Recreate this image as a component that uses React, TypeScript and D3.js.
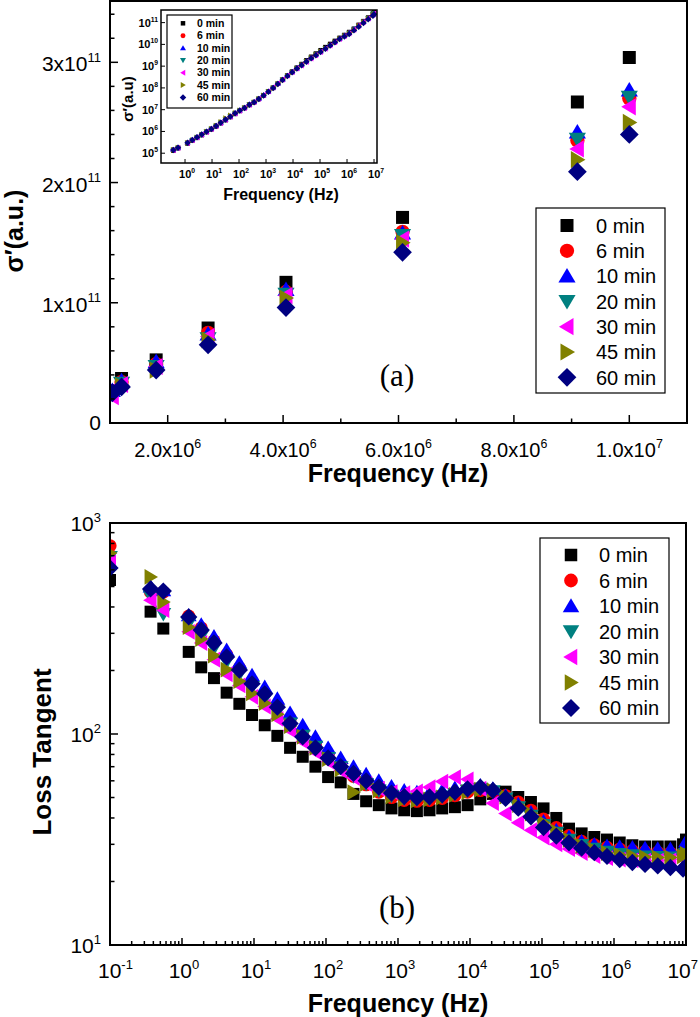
import React from "react";
import * as d3 from "d3";

const SANS = "'Liberation Sans', Arial, sans-serif";
const SERIF = "'Liberation Serif', 'Times New Roman', serif";

// sintering times, one series each
const seriesLabels = ["0 min", "6 min", "10 min", "20 min", "30 min", "45 min", "60 min"];
const seriesColors = ["#000000", "#ff0000", "#0000ff", "#008080", "#ff00ff", "#808000", "#000080"];
const seriesShapes = ["square", "circle", "up", "down", "left", "right", "diamond"];

// (a) ac conductivity above 1 MHz, linear axes
const freqHigh = [1.04e6, 1.2e6, 1.8e6, 2.7e6, 4.05e6, 6.07e6, 9.1e6, 1.0e7];
const sigmaHigh0 = [0.27e11, 0.37e11, 0.525e11, 0.79e11, 1.17e11, 1.71e11, 2.67e11, 3.04e11];
const sigmaHigh6 = [0.26e11, 0.34e11, 0.49e11, 0.75e11, 1.09e11, 1.59e11, 2.35e11, 2.7e11];
const sigmaHigh10 = [0.27e11, 0.35e11, 0.51e11, 0.74e11, 1.11e11, 1.58e11, 2.42e11, 2.77e11];
const sigmaHigh20 = [0.25e11, 0.33e11, 0.47e11, 0.7e11, 1.07e11, 1.56e11, 2.36e11, 2.71e11];
const sigmaHigh30 = [0.22e11, 0.32e11, 0.47e11, 0.72e11, 1.06e11, 1.53e11, 2.28e11, 2.63e11];
const sigmaHigh45 = [0.24e11, 0.31e11, 0.44e11, 0.69e11, 1.04e11, 1.5e11, 2.19e11, 2.5e11];
const sigmaHigh60 = [0.25e11, 0.3e11, 0.44e11, 0.65e11, 0.96e11, 1.42e11, 2.09e11, 2.4e11];

// full sweep, used by the inset and by (b)
const freqSweep = [
  0.1, 0.366, 0.55, 1.24, 1.85, 2.78, 4.17, 6.26, 9.39, 14.1, 21.1, 31.7, 47.5, 71.3, 107, 160,
  241, 361, 541, 812, 1220, 1830, 2740, 4110, 6170, 9250, 13900, 20800, 31200, 46800, 70200,
  105000, 158000, 237000, 355000, 533000, 800000, 1.2e6, 1.8e6, 2.7e6, 4.05e6, 6.07e6, 9.1e6, 1.0e7,
];

const sigma0 = [6.5e4, 1.3e5, 1.7e5, 2.8e5, 3.8e5, 5.1e5, 6.8e5, 9.3e5, 1.25e6, 1.7e6, 2.4e6, 3.3e6, 4.6e6, 6.4e6, 8.8e6, 1.2e7, 1.65e7, 2.2e7, 3.1e7, 4.5e7, 6.7e7, 1.0e8, 1.55e8, 2.4e8, 3.7e8, 5.6e8, 8.5e8, 1.25e9, 1.85e9, 2.7e9, 3.8e9, 5.4e9, 7.5e9, 1.05e10, 1.45e10, 2.0e10, 2.7e10, 3.7e10, 5.25e10, 7.9e10, 1.17e11, 1.71e11, 2.67e11, 3.04e11];
const sigma6 = [7.5e4, 1.45e5, 1.8e5, 3.0e5, 4.0e5, 5.4e5, 7.2e5, 9.7e5, 1.3e6, 1.8e6, 2.5e6, 3.5e6, 4.8e6, 6.7e6, 9.0e6, 1.2e7, 1.7e7, 2.2e7, 3.1e7, 4.5e7, 6.6e7, 1.0e8, 1.5e8, 2.3e8, 3.5e8, 5.3e8, 8.0e8, 1.15e9, 1.7e9, 2.45e9, 3.4e9, 4.8e9, 6.7e9, 9.4e9, 1.3e10, 1.8e10, 2.5e10, 3.4e10, 4.9e10, 7.5e10, 1.09e11, 1.59e11, 2.35e11, 2.7e11];
const sigma10 = [7.4e4, 1.45e5, 1.85e5, 3.05e5, 4.1e5, 5.5e5, 7.4e5, 1.0e6, 1.35e6, 1.85e6, 2.6e6, 3.6e6, 5.0e6, 7.0e6, 9.4e6, 1.25e7, 1.75e7, 2.3e7, 3.2e7, 4.7e7, 6.9e7, 1.05e8, 1.6e8, 2.4e8, 3.6e8, 5.4e8, 8.1e8, 1.17e9, 1.7e9, 2.45e9, 3.45e9, 4.9e9, 6.8e9, 9.6e9, 1.35e10, 1.85e10, 2.6e10, 3.5e10, 5.1e10, 7.4e10, 1.11e11, 1.58e11, 2.42e11, 2.77e11];
const sigma20 = [7.2e4, 1.4e5, 1.75e5, 2.95e5, 3.95e5, 5.3e5, 7.1e5, 9.6e5, 1.3e6, 1.78e6, 2.5e6, 3.45e6, 4.75e6, 6.7e6, 9.0e6, 1.2e7, 1.68e7, 2.2e7, 3.1e7, 4.5e7, 6.6e7, 1.0e8, 1.5e8, 2.3e8, 3.5e8, 5.3e8, 7.9e8, 1.12e9, 1.62e9, 2.35e9, 3.3e9, 4.6e9, 6.4e9, 9.0e9, 1.27e10, 1.78e10, 2.45e10, 3.3e10, 4.7e10, 7.0e10, 1.07e11, 1.56e11, 2.36e11, 2.71e11];
const sigma30 = [6.9e4, 1.35e5, 1.75e5, 2.9e5, 3.9e5, 5.2e5, 7.0e5, 9.5e5, 1.28e6, 1.75e6, 2.45e6, 3.4e6, 4.7e6, 6.6e6, 8.9e6, 1.2e7, 1.68e7, 2.25e7, 3.2e7, 4.7e7, 7.0e7, 1.07e8, 1.62e8, 2.45e8, 3.7e8, 5.4e8, 7.8e8, 1.08e9, 1.55e9, 2.25e9, 3.2e9, 4.5e9, 6.3e9, 8.9e9, 1.25e10, 1.75e10, 2.4e10, 3.2e10, 4.7e10, 7.2e10, 1.06e11, 1.53e11, 2.28e11, 2.63e11];
const sigma45 = [7.0e4, 1.4e5, 1.8e5, 2.95e5, 3.95e5, 5.3e5, 7.1e5, 9.6e5, 1.3e6, 1.85e6, 2.7e6, 4.1e6, 5.4e6, 7.0e6, 9.2e6, 1.2e7, 1.65e7, 2.2e7, 3.1e7, 4.5e7, 6.6e7, 1.0e8, 1.5e8, 2.3e8, 3.5e8, 5.2e8, 7.8e8, 1.12e9, 1.62e9, 2.35e9, 3.3e9, 4.6e9, 6.4e9, 9.0e9, 1.26e10, 1.76e10, 2.4e10, 3.1e10, 4.4e10, 6.9e10, 1.04e11, 1.5e11, 2.19e11, 2.5e11];
const sigma60 = [7.1e4, 1.4e5, 1.8e5, 3.0e5, 4.0e5, 5.4e5, 7.2e5, 9.8e5, 1.3e6, 1.8e6, 2.5e6, 3.5e6, 4.8e6, 6.8e6, 9.1e6, 1.2e7, 1.7e7, 2.2e7, 3.1e7, 4.5e7, 6.6e7, 1.0e8, 1.5e8, 2.3e8, 3.5e8, 5.2e8, 7.8e8, 1.1e9, 1.6e9, 2.3e9, 3.2e9, 4.5e9, 6.3e9, 8.9e9, 1.25e10, 1.75e10, 2.3e10, 3.0e10, 4.4e10, 6.5e10, 9.6e10, 1.42e11, 2.09e11, 2.4e11];

// (b) loss tangent over the same sweep
const tan0 = [537, 380, 316, 245, 207, 184, 157, 139, 123, 110, 98, 86, 78, 70, 62.5, 59, 52, 48, 46, 44.4, 43.5, 43.1, 43.5, 44.4, 45, 46, 49, 52, 53.3, 50.3, 47.6, 44.4, 40, 35.6, 33.8, 32.5, 31.6, 30.6, 29.7, 29.3, 29.3, 29.3, 30, 31.6];
const tan6 = [780, 470, 470, 362, 318, 276, 238, 205, 178, 156, 137, 118, 103, 90, 80, 71, 63, 57.5, 53, 50, 48.5, 48, 48.5, 49.5, 51, 53, 54, 53.5, 51, 47.5, 43.5, 39.5, 36, 33, 31, 29.8, 29, 28.5, 28, 27.7, 27.5, 27.3, 27.2, 28];
const tan10 = [650, 500, 480, 365, 330, 290, 250, 218, 190, 167, 147, 126, 110, 97, 86, 77, 70, 64.5, 60, 56.5, 54, 53, 53, 54, 55.5, 57, 57, 55, 51, 46.5, 42.5, 38.5, 35, 32.5, 31, 30, 29.5, 29.2, 29, 28.8, 28.6, 28.5, 28.5, 31];
const tan20 = [690, 450, 370, 335, 290, 255, 220, 192, 167, 147, 128, 112, 98, 87, 77, 69.5, 63, 58, 54, 51, 49.5, 49, 49.5, 50.5, 52, 54, 55, 53.5, 49.5, 45, 41, 37, 34, 31.5, 29.8, 28.6, 27.7, 27, 26.6, 26.3, 26.1, 26, 26, 27];
const tan30 = [650, 431, 387, 305, 270, 225, 192, 170, 150, 135, 118, 104, 92, 82, 74, 67, 62, 58, 55, 53, 52.5, 53.5, 56, 59.5, 62.5, 61, 55, 47, 42, 38, 35, 32.3, 30, 28.5, 27.3, 26.4, 25.8, 25.4, 25.2, 25.1, 25.1, 25.2, 25.5, 26.5];
const tan45 = [720, 555, 422, 321, 282, 235, 202, 178, 156, 140, 124, 109, 97, 86, 76, 68, 53, 58, 54, 50.5, 49, 48.5, 49, 50, 51.5, 53, 54.5, 54, 50.5, 46, 42, 38, 34.5, 31.5, 29.5, 28.2, 27.3, 26.8, 26.4, 26.1, 26, 26, 26.3, 27];
const tan60 = [612, 487, 476, 359, 311, 270, 232, 201, 173, 155, 134, 112, 97, 86, 77, 70, 65, 60, 56, 52.5, 50.5, 50, 50.3, 51.5, 53, 55, 56, 54, 49.5, 44.5, 40.5, 36, 32.8, 30.5, 28.8, 27.4, 26.3, 25.4, 24.6, 24.1, 23.7, 23.3, 22.9, 23.5];

const sigmaHigh = [sigmaHigh0, sigmaHigh6, sigmaHigh10, sigmaHigh20, sigmaHigh30, sigmaHigh45, sigmaHigh60];
const sigmaSweep = [sigma0, sigma6, sigma10, sigma20, sigma30, sigma45, sigma60];
const tanSweep = [tan0, tan6, tan10, tan20, tan30, tan45, tan60];

// tick values
const ticksXa = [2e6, 4e6, 6e6, 8e6, 1e7];
const minorXa = [3e6, 5e6, 7e6, 9e6];
const ticksYa = [0, 1e11, 2e11, 3e11];
const decadesXb = [-1, 0, 1, 2, 3, 4, 5, 6, 7];
const decadesYb = [1, 2, 3];
const decadesXi = [0, 1, 2, 3, 4, 5, 6, 7];
const decadesYi = [5, 6, 7, 8, 9, 10, 11];

function markerPath(shape: string, s: number): string {
  const p = d3.path();
  if (shape === "square") p.rect(-s / 2, -s / 2, s, s);
  else if (shape === "circle") p.arc(0, 0, s * 0.55, 0, 2 * Math.PI);
  else if (shape === "up") { p.moveTo(0, -0.62 * s); p.lineTo(0.66 * s, 0.5 * s); p.lineTo(-0.66 * s, 0.5 * s); p.closePath(); }
  else if (shape === "down") { p.moveTo(0, 0.62 * s); p.lineTo(0.66 * s, -0.5 * s); p.lineTo(-0.66 * s, -0.5 * s); p.closePath(); }
  else if (shape === "left") { p.moveTo(-0.62 * s, 0); p.lineTo(0.5 * s, -0.66 * s); p.lineTo(0.5 * s, 0.66 * s); p.closePath(); }
  else if (shape === "right") { p.moveTo(0.62 * s, 0); p.lineTo(-0.5 * s, -0.66 * s); p.lineTo(-0.5 * s, 0.66 * s); p.closePath(); }
  else { p.moveTo(0, -0.72 * s); p.lineTo(0.72 * s, 0); p.lineTo(0, 0.72 * s); p.lineTo(-0.72 * s, 0); p.closePath(); }
  return p.toString();
}

function Pow({ x, y, base, exp, size, anchor = "middle", weight = "normal" }: any) {
  return (
    <text x={x} y={y} fontSize={size} textAnchor={anchor} fontWeight={weight} fontFamily={SANS}>
      {base}
      <tspan fontSize={size * 0.62} dy={-size * 0.45}>{exp}</tspan>
    </text>
  );
}

function Legend({ x, y, w, h, rowY, step, markX, textX, size, fontSize, weight }: any) {
  return (
    <g>
      <rect x={x} y={y} width={w} height={h} fill="#fff" stroke="#000" strokeWidth={1.2} />
      {seriesLabels.map((lab, i) => (
        <g key={lab}>
          <path d={markerPath(seriesShapes[i], size)} transform={`translate(${markX},${rowY + i * step})`} fill={seriesColors[i]} />
          <text x={textX} y={rowY + i * step + fontSize * 0.36} fontSize={fontSize} fontWeight={weight} fontFamily={SANS}>{lab}</text>
        </g>
      ))}
    </g>
  );
}

export default function App() {
  // panel (a)
  const xa = d3.scaleLinear().domain([1e6, 1.1e7]).range([110, 687]);
  const ya = d3.scaleLinear().domain([0, 3.51e11]).range([423, 1]);
  const minorYa = d3.range(2e10, 3.5e11, 2e10).filter((v) => Math.round(v / 1e10) % 10 !== 0);

  // inset
  const xi = d3.scaleLog().domain([Math.pow(10, -0.89), Math.pow(10, 7.11)]).range([161, 377]);
  const yi = d3.scaleLog().domain([Math.pow(10, 4.55), Math.pow(10, 11.58)]).range([163, 10]);

  // panel (b)
  const xb = d3.scaleLog().domain([0.1, 1e7]).range([110, 686]);
  const yb = d3.scaleLog().domain([10, 1000]).range([945, 523]);
  const minorXb: number[] = [];
  for (let d = -1; d < 7; d++) for (let k = 2; k < 10; k++) minorXb.push(k * Math.pow(10, d));
  const minorYb: number[] = [];
  for (let d = 1; d < 3; d++) for (let k = 2; k < 10; k++) minorYb.push(k * Math.pow(10, d));

  const pathsA = seriesShapes.map((s) => markerPath(s, 13));
  const pathsB = seriesShapes.map((s) => markerPath(s, 12));
  const pathsI = seriesShapes.map((s) => markerPath(s, 4.5));

  // decade labels under (b): the end ones are nudged to stay inside the page
  const xbLabel = (d: number) => {
    if (d === -1) return { x: xb(0.1) - 12, anchor: "start" };
    if (d === 7) return { x: 698, anchor: "end" };
    return { x: xb(Math.pow(10, d)) + 2, anchor: "middle" };
  };

  return (
    <svg width={700} height={1017} style={{ position: "absolute", left: 0, top: 0, background: "#fff" }} fontFamily={SANS}>
      <defs>
        <clipPath id="clipA"><rect x={110} y={1} width={577} height={422} /></clipPath>
        <clipPath id="clipB"><rect x={110} y={523} width={576} height={422} /></clipPath>
        <clipPath id="clipI"><rect x={161} y={10} width={216} height={153} /></clipPath>
      </defs>

      {/* ---------- (a) ---------- */}
      <g clipPath="url(#clipA)">
        {sigmaHigh.map((vals, i) => (
          <g key={i} fill={seriesColors[i]}>
            {vals.map((v, j) => (
              <path key={j} d={pathsA[i]} transform={`translate(${xa(freqHigh[j])},${ya(v)})`} />
            ))}
          </g>
        ))}
      </g>
      <g stroke="#000" strokeWidth={1.5}>
        {ticksXa.map((t) => <line key={t} x1={xa(t)} x2={xa(t)} y1={423} y2={415} />)}
        {minorXa.map((t) => <line key={t} x1={xa(t)} x2={xa(t)} y1={423} y2={418.5} />)}
        {ticksYa.map((t) => <line key={t} x1={110} x2={118} y1={ya(t)} y2={ya(t)} />)}
        {minorYa.map((t) => <line key={t} x1={110} x2={114.5} y1={ya(t)} y2={ya(t)} />)}
      </g>
      <rect x={110} y={1} width={577} height={422} fill="none" stroke="#000" strokeWidth={2} />
      {ticksXa.map((t) => {
        const e = Math.floor(Math.log10(t) + 1e-9);
        return <Pow key={t} x={xa(t)} y={457} base={`${(t / Math.pow(10, e)).toFixed(1)}x10`} exp={e} size={20} />;
      })}
      {ticksYa.map((t) =>
        t === 0 ? (
          <text key={t} x={101} y={ya(t) + 7} fontSize={21} textAnchor="end">0</text>
        ) : (
          <Pow key={t} x={101} y={ya(t) + 9} base={`${t / 1e11}x10`} exp={11} size={21} anchor="end" />
        )
      )}
      <text x={398} y={482} fontSize={25} fontWeight="bold" textAnchor="middle">Frequency (Hz)</text>
      <text transform="translate(23,231) rotate(-90)" fontSize={25} fontWeight="bold" textAnchor="middle">σ′(a.u.)</text>
      <text x={397} y={386} fontSize={31} fontFamily={SERIF} textAnchor="middle">(a)</text>
      <Legend x={536} y={208} w={129} h={185} rowY={225.5} step={25.3} markX={567} textX={596} size={13} fontSize={20} weight="normal" />

      {/* ---------- inset ---------- */}
      <rect x={161} y={10} width={216} height={153} fill="#fff" />
      <g clipPath="url(#clipI)">
        {sigmaSweep.map((vals, i) => (
          <g key={i} fill={seriesColors[i]}>
            {vals.map((v, j) => (
              <path key={j} d={pathsI[i]} transform={`translate(${xi(freqSweep[j])},${yi(v)})`} />
            ))}
          </g>
        ))}
      </g>
      <g stroke="#000" strokeWidth={1}>
        {decadesXi.map((d) => <line key={d} x1={xi(Math.pow(10, d))} x2={xi(Math.pow(10, d))} y1={163} y2={159} />)}
        {decadesYi.map((d) => <line key={d} x1={161} x2={165} y1={yi(Math.pow(10, d))} y2={yi(Math.pow(10, d))} />)}
      </g>
      <rect x={161} y={10} width={216} height={153} fill="none" stroke="#000" strokeWidth={1.5} />
      {decadesXi.map((d) => (
        <Pow key={d} x={xi(Math.pow(10, d)) - 6} y={178} base="10" exp={d} size={11} anchor="start" weight="bold" />
      ))}
      {decadesYi.map((d) => (
        <Pow key={d} x={158} y={yi(Math.pow(10, d)) + 4} base="10" exp={d} size={11} anchor="end" weight="bold" />
      ))}
      <text x={281} y={200} fontSize={16} fontWeight="bold" textAnchor="middle">Frequency (Hz)</text>
      <text transform="translate(133,99) rotate(-90)" fontSize={15} fontWeight="bold" textAnchor="middle">σ′(a.u)</text>
      <Legend x={167} y={15} w={65} h={93} rowY={23.3} step={12.35} markX={183} textX={197} size={4.5} fontSize={10.5} weight="bold" />

      {/* ---------- (b) ---------- */}
      <g clipPath="url(#clipB)">
        {tanSweep.map((vals, i) => (
          <g key={i} fill={seriesColors[i]}>
            {vals.map((v, j) => (
              <path key={j} d={pathsB[i]} transform={`translate(${xb(freqSweep[j])},${yb(v)})`} />
            ))}
          </g>
        ))}
      </g>
      <g stroke="#000" strokeWidth={1.5}>
        {decadesXb.map((d) => <line key={d} x1={xb(Math.pow(10, d))} x2={xb(Math.pow(10, d))} y1={945} y2={938} />)}
        {minorXb.map((t) => <line key={t} x1={xb(t)} x2={xb(t)} y1={945} y2={941} />)}
        {decadesYb.map((d) => <line key={d} x1={110} x2={118} y1={yb(Math.pow(10, d))} y2={yb(Math.pow(10, d))} />)}
        {minorYb.map((t) => <line key={t} x1={110} x2={114.5} y1={yb(t)} y2={yb(t)} />)}
      </g>
      <rect x={110} y={523} width={576} height={422} fill="none" stroke="#000" strokeWidth={2} />
      {decadesXb.map((d) => {
        const p = xbLabel(d);
        return <Pow key={d} x={p.x} y={978} base="10" exp={d} size={21} anchor={p.anchor} />;
      })}
      {decadesYb.map((d) => (
        <Pow key={d} x={101} y={yb(Math.pow(10, d)) + 8} base="10" exp={d} size={21} anchor="end" />
      ))}
      <text x={398} y={1012} fontSize={25} fontWeight="bold" textAnchor="middle">Frequency (Hz)</text>
      <text transform="translate(51,752) rotate(-90)" fontSize={26} fontWeight="bold" textAnchor="middle">Loss Tangent</text>
      <text x={397} y={918} fontSize={31} fontFamily={SERIF} textAnchor="middle">(b)</text>
      <Legend x={540} y={538} w={129} h={185} rowY={555} step={25.5} markX={571} textX={599} size={12.5} fontSize={20} weight="normal" />
    </svg>
  );
}
